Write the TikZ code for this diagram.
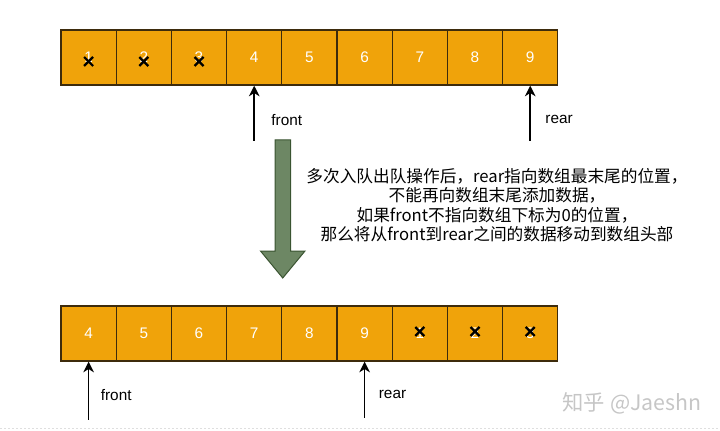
\documentclass[tikz,border=0pt]{standalone}
\usepackage{fontspec}
\setmainfont{Liberation Sans}
\newfontfamily\cjk{Noto Sans CJK SC}
\usepackage{tikz}
\usetikzlibrary{arrows.meta, positioning, calc}
\definecolor{cellFill}{HTML}{F0A30A}
\definecolor{cellDraw}{HTML}{3D2B0C}
\definecolor{moveFill}{HTML}{6D8764}
\definecolor{moveDraw}{HTML}{3A5431}
\tikzset{
  cell/.style={rectangle, draw=cellDraw, fill=cellFill, line width=1pt, inner sep=0pt,
              minimum width=41.4pt, minimum height=41.25pt, text=white, font=\fontsize{11.5}{13}\selectfont},
  ptr/.style={-{Stealth[width=8pt, length=8pt, inset=2.5pt]}, line width=1.1pt},
  ptrlabel/.style={anchor=west, inner sep=0pt, font=\fontsize{11.5}{13}\selectfont},
  cross/.style={line width=1.7pt, black},
  note/.style={align=center, inner sep=0pt, font=\cjk\fontsize{12.5}{14.6}\selectfont},
}

\begin{document}
\begin{tikzpicture}[x=0.75pt, y=-0.75pt]
  \useasboundingbox (0,0) rectangle (720,431);
  % queue before moving
  \foreach \i in {1,...,9}
    \node[cell] (t\i) at ({61+55.2*(\i-0.5)}, 57.5) {\i};
  \foreach \i in {1,2,3}
    \draw[cross] ($(t\i)+(-4.5,-0.5)$) -- ($(t\i)+(4.5,8.5)$)
                 ($(t\i)+(4.5,-0.5)$) -- ($(t\i)+(-4.5,8.5)$);
  \coordinate (frontTop) at ($(t4.south)+(0,55)$);
  \coordinate (rearTop) at ($(t9.south)+(0,55)$);
  \draw[ptr] (frontTop) -- (t4.south);
  \draw[ptr] (rearTop) -- (t9.south);
  \node[ptrlabel] (frontTopLabel) at ($(t4.south)+(17,34)$) {front};
  \node[ptrlabel] (rearTopLabel) at ($(t9.south)+(15,34)$) {rear};

  % move down
  \draw[fill=moveFill, draw=moveDraw, line width=0.75pt]
    (275,140) -- (290.5,140) -- (290.5,251) -- (305,251) -- (282.75,278)
    -- (260.5,251) -- (275,251) -- cycle;
  \node[note] (explain) at (497,205)
    {多次入队出队操作后，rear指向数组最末尾的位置，\\
     不能再向数组末尾添加数据，\\
     如果front不指向数组下标为0的位置，\\
     那么将从front到rear之间的数据移动到数组头部};

  % queue after moving
  \foreach \i in {1,...,9} {
    \pgfmathtruncatemacro\v{mod(\i+2,9)+1}
    \node[cell] (b\i) at ({61+55.2*(\i-0.5)}, 333.5) {\v};
  }
  \foreach \i in {7,8,9}
    \draw[cross] ($(b\i)+(-4.5,-6.5)$) -- ($(b\i)+(4.5,2.5)$)
                 ($(b\i)+(4.5,-6.5)$) -- ($(b\i)+(-4.5,2.5)$);
  \coordinate (frontBot) at ($(b1.south)+(0,58)$);
  \coordinate (rearBot) at ($(b6.south)+(0,56)$);
  \draw[ptr] (frontBot) -- (b1.south);
  \draw[ptr] (rearBot) -- (b6.south);
  \node[ptrlabel] (frontBotLabel) at ($(b1.south)+(12,33)$) {front};
  \node[ptrlabel] (rearBotLabel) at ($(b6.south)+(14,33)$) {rear};

  \node[text=gray!45, font=\cjk\fontsize{16}{18}\selectfont] (mark) at (632,403) {知乎 @Jaeshn};
  \draw[gray!25, line width=0.75pt, dash pattern=on 1.5pt off 1.5pt] (0,428) -- (720,428);
\end{tikzpicture}
\end{document}
